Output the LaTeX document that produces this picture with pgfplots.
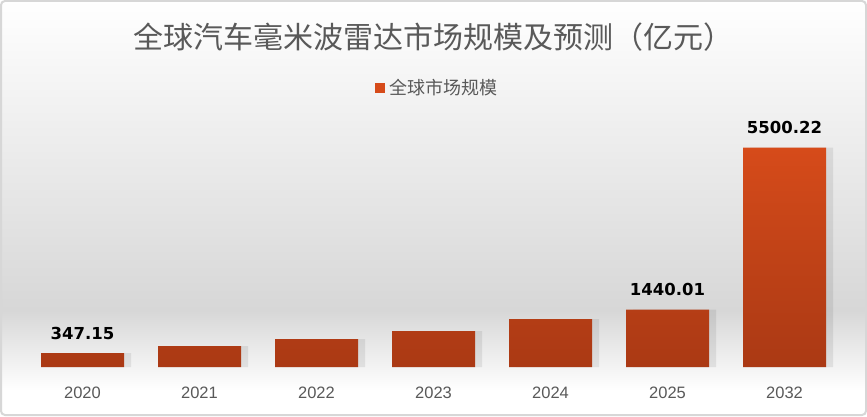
\documentclass[border=0pt]{standalone}
\usepackage{pgfplots}
\pgfplotsset{compat=1.18}
\usepackage{fontspec}
\setmainfont{Liberation Sans}
\newfontfamily\cjk{Noto Sans CJK SC}
\newfontfamily\lab{DejaVu Sans}
\definecolor{barTop}{RGB}{214,75,26}
\definecolor{barBot}{RGB}{170,57,20}
\definecolor{txt}{RGB}{89,89,89}
\definecolor{bg}{RGB}{215,215,215}
\begin{document}
\begin{tikzpicture}[x=1pt,y=1pt]
\shade[top color=white,bottom color=bg] (0,106) rectangle (867,416);
\shade[top color=bg,bottom color=white] (0,26) rectangle (867,106);
\fill[white] (0,0) rectangle (867,26);
\draw[bg, line width=2pt, rounded corners=4pt] (1,1) rectangle (866,415);
\node[txt, font=\cjk\fontsize{30}{32}\selectfont] at (433.5,379) {全球汽车毫米波雷达市场规模及预测（亿元）};
\fill[barTop] (375,323) rectangle (385,333);
\node[anchor=west, txt, font=\cjk\fontsize{18}{20}\selectfont, inner sep=0] at (389,328) {全球市场规模};
\begin{axis}[
  at={(24pt,49pt)}, anchor=south west,
  scale only axis, width=819pt, height=250pt,
  xmin=-0.5, xmax=6.5, ymin=0, ymax=6270,
  axis line style={draw=none},
  ytick=\empty,
  xtick={0,1,2,3,4,5,6},
  xticklabels={2020,2021,2022,2023,2024,2025,2032},
  tick style={draw=none},
  xticklabel style={text=txt, font=\fontsize{16.5}{18}\selectfont, anchor=base, yshift=-31pt},
  clip=false,
]
\addplot[ybar, bar width=83pt, bar shift=7pt, fill=black, fill opacity=0.08, draw=none]
  coordinates {(0,347.15) (1,525) (2,700) (3,900) (4,1200) (5,1440.01) (6,5500.22)};
\addplot[ybar, bar width=83pt, bar shift=0pt, draw=none, top color=barTop, bottom color=barBot]
  coordinates {(0,347.15) (1,525) (2,700) (3,900) (4,1200) (5,1440.01) (6,5500.22)};
\addplot[only marks, mark=none, nodes near coords, point meta=explicit symbolic,
  nodes near coords style={anchor=base, yshift=14pt, inner sep=0, font=\lab\bfseries\fontsize{16.5}{17}\selectfont, text=black}]
  coordinates {(0,347.15)[347.15] (5,1440.01)[1440.01] (6,5500.22)[5500.22]};
\end{axis}
\end{tikzpicture}
\end{document}
